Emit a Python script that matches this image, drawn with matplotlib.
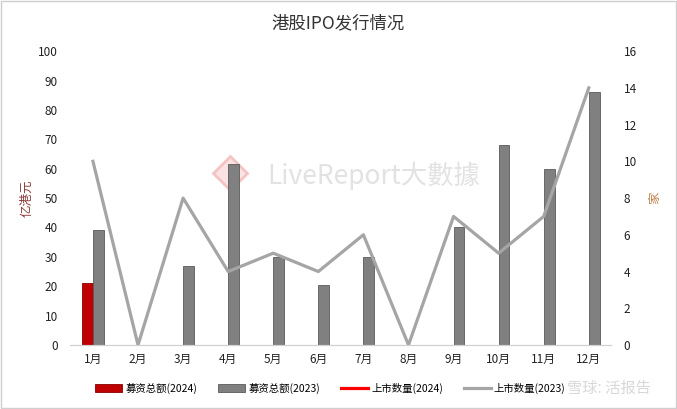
import numpy as np
import matplotlib
matplotlib.use("Agg")
import matplotlib.pyplot as plt
from matplotlib.patches import Rectangle

plt.rcParams["font.family"] = ["Noto Sans CJK SC", "DejaVu Sans"]

months = ["1月", "2月", "3月", "4月", "5月", "6月", "7月", "8月", "9月", "10月", "11月", "12月"]
funds_2024 = [21]
funds_2023 = [39, 0, 27, 61.5, 30, 20.5, 30, 0, 40, 68, 60, 86]
count_2024 = [10]
count_2023 = [10, 0, 8, 4, 5, 4, 6, 0, 7, 5, 7, 14]

fig = plt.figure(figsize=(6.77, 4.09), dpi=100)
ax = fig.add_axes([0.104, 0.1565, 0.799, 0.7185])
ax2 = ax.twinx()

x = np.arange(len(months))
w = 0.24
ax.bar(x[:len(funds_2024)] - w / 2, funds_2024, w, color="#C00000", edgecolor="#8B0000",
       lw=0.6, label="募资总额(2024)", zorder=2)
ax.bar(x + w / 2, funds_2023, w, color="#808080", edgecolor="#5a5a5a",
       lw=0.6, label="募资总额(2023)", zorder=2)
ax2.plot(x[:len(count_2024)], count_2024, color="#FF0000", lw=2.3, label="上市数量(2024)")
ax2.plot(x, count_2023, color="#A5A5A5", lw=2.3, label="上市数量(2023)")

ax.set_xlim(-0.5, 11.5)
ax.set_ylim(0, 100)
ax2.set_ylim(0, 16)
ax.set_yticks(range(0, 101, 10))
ax2.set_yticks(range(0, 17, 2))
ax.set_xticks(x)
ax.set_xticklabels(months)
for a in (ax, ax2):
    for s in ["top", "left", "right"]:
        a.spines[s].set_visible(False)
    a.spines["bottom"].set_color("#d0d0d0")
    a.tick_params(length=0, labelsize=8.5, colors="#222222", pad=6)
ax.tick_params(axis="y", pad=9)
ax2.tick_params(axis="y", pad=9)

ax.set_ylabel("亿港元", color="#8B3A3A", fontsize=9, labelpad=3)
ax2.set_ylabel("家", color="#C0804A", fontsize=9, labelpad=8)

fig.suptitle("港股IPO发行情况", y=0.965, fontsize=12.5, color="#333333")

# watermarks
ax.plot([0.295], [0.585], marker="D", ms=17, mfc="#fbe3e3", mec="#f4c4c4", mew=2,
        transform=ax.transAxes, zorder=0)
ax.text(0.56, 0.575, "LiveReport大數據", transform=ax.transAxes, ha="center", va="center",
        fontsize=19, color="#e2e2e2", fontweight="medium", zorder=0)
fig.text(0.9, 0.05, "雪球: 活报告", ha="center", va="center", fontsize=11,
         color="#d8d8d8", zorder=10)

h1, l1 = ax.get_legend_handles_labels()
h2, l2 = ax2.get_legend_handles_labels()
fig.legend(h1 + h2, l1 + l2, loc="center", bbox_to_anchor=(0.488, 0.051), ncol=4,
           frameon=False, fontsize=7.5, handlelength=2.6, handleheight=0.7,
           columnspacing=2.0, handletextpad=0.3)

fig.patches.append(Rectangle((0.002, 0.002), 0.996, 0.996, transform=fig.transFigure,
                             fill=False, edgecolor="#cfcfcf", lw=1))
fig.savefig("out.png", dpi=100)
